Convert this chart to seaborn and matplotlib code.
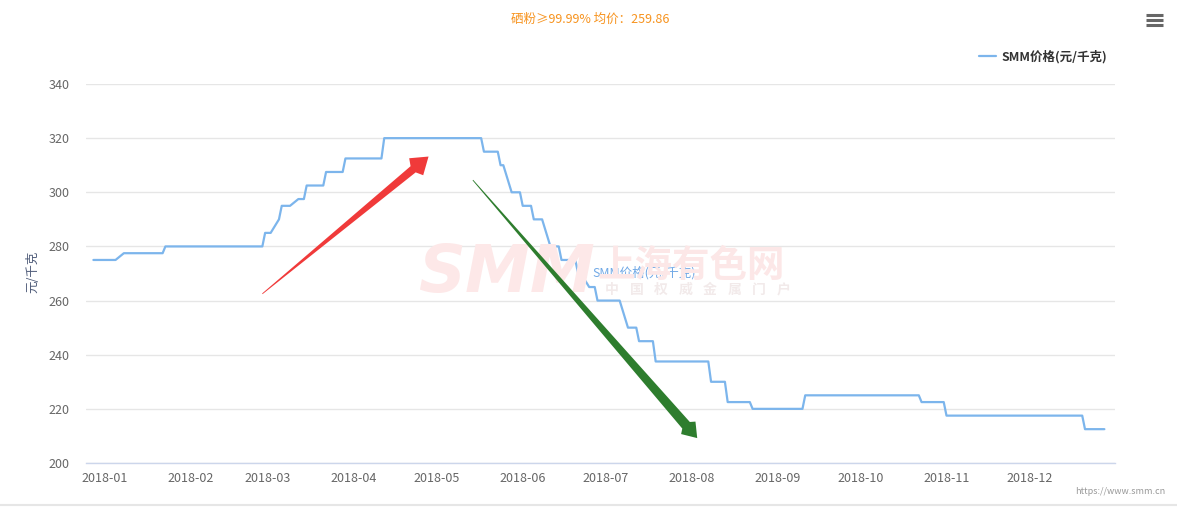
import numpy as np
import pandas as pd
import matplotlib
matplotlib.use("Agg")
import matplotlib.pyplot as plt
import matplotlib.dates as mdates
from matplotlib.lines import Line2D
from matplotlib.patches import Polygon
import seaborn as sns

# --- Data (vertices of the price line) ---
dates = [
    "2017-12-28", "2018-01-05", "2018-01-08", "2018-01-22", "2018-01-23",
    "2018-02-27", "2018-02-28", "2018-03-02", "2018-03-05", "2018-03-06",
    "2018-03-09", "2018-03-12", "2018-03-14", "2018-03-15", "2018-03-21",
    "2018-03-22", "2018-03-28", "2018-03-29", "2018-04-11", "2018-04-12",
    "2018-05-17", "2018-05-18", "2018-05-23", "2018-05-24", "2018-05-25",
    "2018-05-28", "2018-05-31", "2018-06-01", "2018-06-04", "2018-06-05",
    "2018-06-08", "2018-06-11", "2018-06-14", "2018-06-15", "2018-06-20",
    "2018-06-21", "2018-06-22", "2018-06-25", "2018-06-27", "2018-06-28",
    "2018-07-06", "2018-07-09", "2018-07-12", "2018-07-13", "2018-07-18",
    "2018-07-19", "2018-08-07", "2018-08-08", "2018-08-13", "2018-08-14",
    "2018-08-22", "2018-08-23", "2018-09-10", "2018-09-11", "2018-10-22",
    "2018-10-23", "2018-10-31", "2018-11-01", "2018-12-20", "2018-12-21",
    "2018-12-28",
]
prices = [
    275, 275, 277.5, 277.5, 280,
    280, 285, 285, 290, 295,
    295, 297.5, 297.5, 302.5, 302.5,
    307.5, 307.5, 312.5, 312.5, 320,
    320, 315, 315, 310, 310,
    300, 300, 295, 295, 290,
    290, 280, 280, 275, 275,
    270, 270, 265, 265, 260,
    260, 250, 250, 245, 245,
    237.5, 237.5, 230, 230, 222.5,
    222.5, 220, 220, 225, 225,
    222.5, 222.5, 217.5, 217.5, 212.5,
    212.5,
]
y_ticks = [200, 220, 240, 260, 280, 300, 320, 340]
series_name = "SMM价格(元/千克)"
title_text = "硒粉≥99.99% 均价：259.86"
y_title = "元/千克"

# annotation arrows (tail -> head), in data units
red_arrow = (("2018-02-27", 262.5), ("2018-04-28", 313.2))
green_arrow = (("2018-05-14", 304.5), ("2018-08-03", 209.2))

LINE_COLOR = "#7cb5ec"

df = pd.DataFrame({"date": pd.to_datetime(dates), "price": prices})

# --- Figure ---
sns.set_theme(style="white")
plt.rcParams["font.family"] = ["Noto Sans CJK SC", "DejaVu Sans"]

fig = plt.figure(figsize=(11.77, 5.08), dpi=100)
ax = fig.add_axes([86 / 1177, 1 - 463 / 508, 1029 / 1177, 379 / 508])

# watermark behind everything
fig.text(418 / 1177, 1 - 274 / 508, "SMM", fontsize=47, fontweight="heavy",
         fontstyle="italic", family="DejaVu Sans", color="#fde8e8",
         ha="left", va="center", zorder=0)
fig.text(691 / 1177, 1 - 265 / 508, "上海有色网", fontsize=27, fontweight="bold",
         color="#fce7e7", ha="center", va="center", zorder=0)
for i, ch in enumerate("中国权威金属门户"):
    fig.text((612 + i * 24.5) / 1177, 1 - 290 / 508, ch, fontsize=10,
             fontweight="bold", color="#f2eaea", ha="center", va="center", zorder=0)

ax.set_facecolor("none")
sns.lineplot(data=df, x="date", y="price", ax=ax, color=LINE_COLOR,
             linewidth=1.6, label=series_name, zorder=3)

ax.set_ylim(200, 340)
ax.set_yticks(y_ticks)
ax.set_xlim(pd.Timestamp("2017-12-25 08:00"), pd.Timestamp("2018-12-31 20:00"))
ax.xaxis.set_major_locator(mdates.MonthLocator())
ax.xaxis.set_major_formatter(mdates.DateFormatter("%Y-%m"))

ax.grid(axis="y", color="#e6e6e6", linewidth=1)
ax.grid(axis="x", visible=False)
for side in ["top", "right", "left"]:
    ax.spines[side].set_visible(False)
ax.spines["bottom"].set_color("#ccd6eb")
ax.spines["bottom"].set_linewidth(1)
ax.tick_params(axis="x", colors="#ccd6eb", length=6, width=1, pad=0.5,
               labelcolor="#666666", labelsize=9)
ax.tick_params(axis="y", length=0, pad=12, labelcolor="#666666", labelsize=9)
ax.set_xlabel("")
ax.set_ylabel("")

fig.text(33 / 1177, 1 - 272 / 508, y_title, rotation=90, fontsize=9,
         color="#4d5a78", ha="center", va="center")

# title
fig.text(590 / 1177, 1 - 19 / 508, title_text, fontsize=9, color="#f7931e",
         ha="center", va="center")

# legend
leg = ax.legend(loc="upper right", bbox_to_anchor=(1112 / 1177, 1 - 45 / 508),
                bbox_transform=fig.transFigure, frameon=False,
                handlelength=1.35, handletextpad=0.45, borderaxespad=0,
                prop={"size": 9, "weight": "bold"})
for t in leg.get_texts():
    t.set_color("#333333")

# series label on the line
ax.text(pd.Timestamp("2018-06-26"), 270.2, series_name, fontsize=9,
        color="#6fa8e6", ha="left", va="center", zorder=4)


# tapered arrows: thin at the tail, widening toward the head
def draw_arrow(tail, head, color, shaft_w, head_w, head_len):
    to_px = ax.transData.transform
    t = to_px((mdates.date2num(pd.Timestamp(tail[0])), tail[1]))
    h = to_px((mdates.date2num(pd.Timestamp(head[0])), head[1]))
    u = (h - t) / np.hypot(*(h - t))
    n = np.array([-u[1], u[0]])
    b = h - u * head_len
    notch = h - u * head_len * 0.8
    pts = [t + n * 0.4, b + n * shaft_w / 2, notch + n * head_w / 2, h,
           notch - n * head_w / 2, b - n * shaft_w / 2, t - n * 0.4]
    pts = fig.transFigure.inverted().transform(np.array(pts))
    fig.add_artist(Polygon(pts, closed=True, facecolor=color, edgecolor="none",
                           transform=fig.transFigure, zorder=5))


draw_arrow(*red_arrow, "#f03a3a", 8, 22, 20)
draw_arrow(*green_arrow, "#2e7d2e", 10, 19, 17)

# menu icon
for yy in [15, 20, 25]:
    fig.add_artist(Line2D([1146 / 1177, 1163 / 1177], [1 - yy / 508] * 2,
                          color="#666666", linewidth=2.2, solid_capstyle="butt"))

# credit
fig.text(1165 / 1177, 1 - 492 / 508, "https://www.smm.cn", fontsize=6.5,
         color="#999999", ha="right", va="center")

# bottom strip
fig.add_artist(Line2D([0, 1], [1 - 505 / 508] * 2, color="#e6e6e6", linewidth=1.5))

fig.savefig("out.png", dpi=100, facecolor="white")
